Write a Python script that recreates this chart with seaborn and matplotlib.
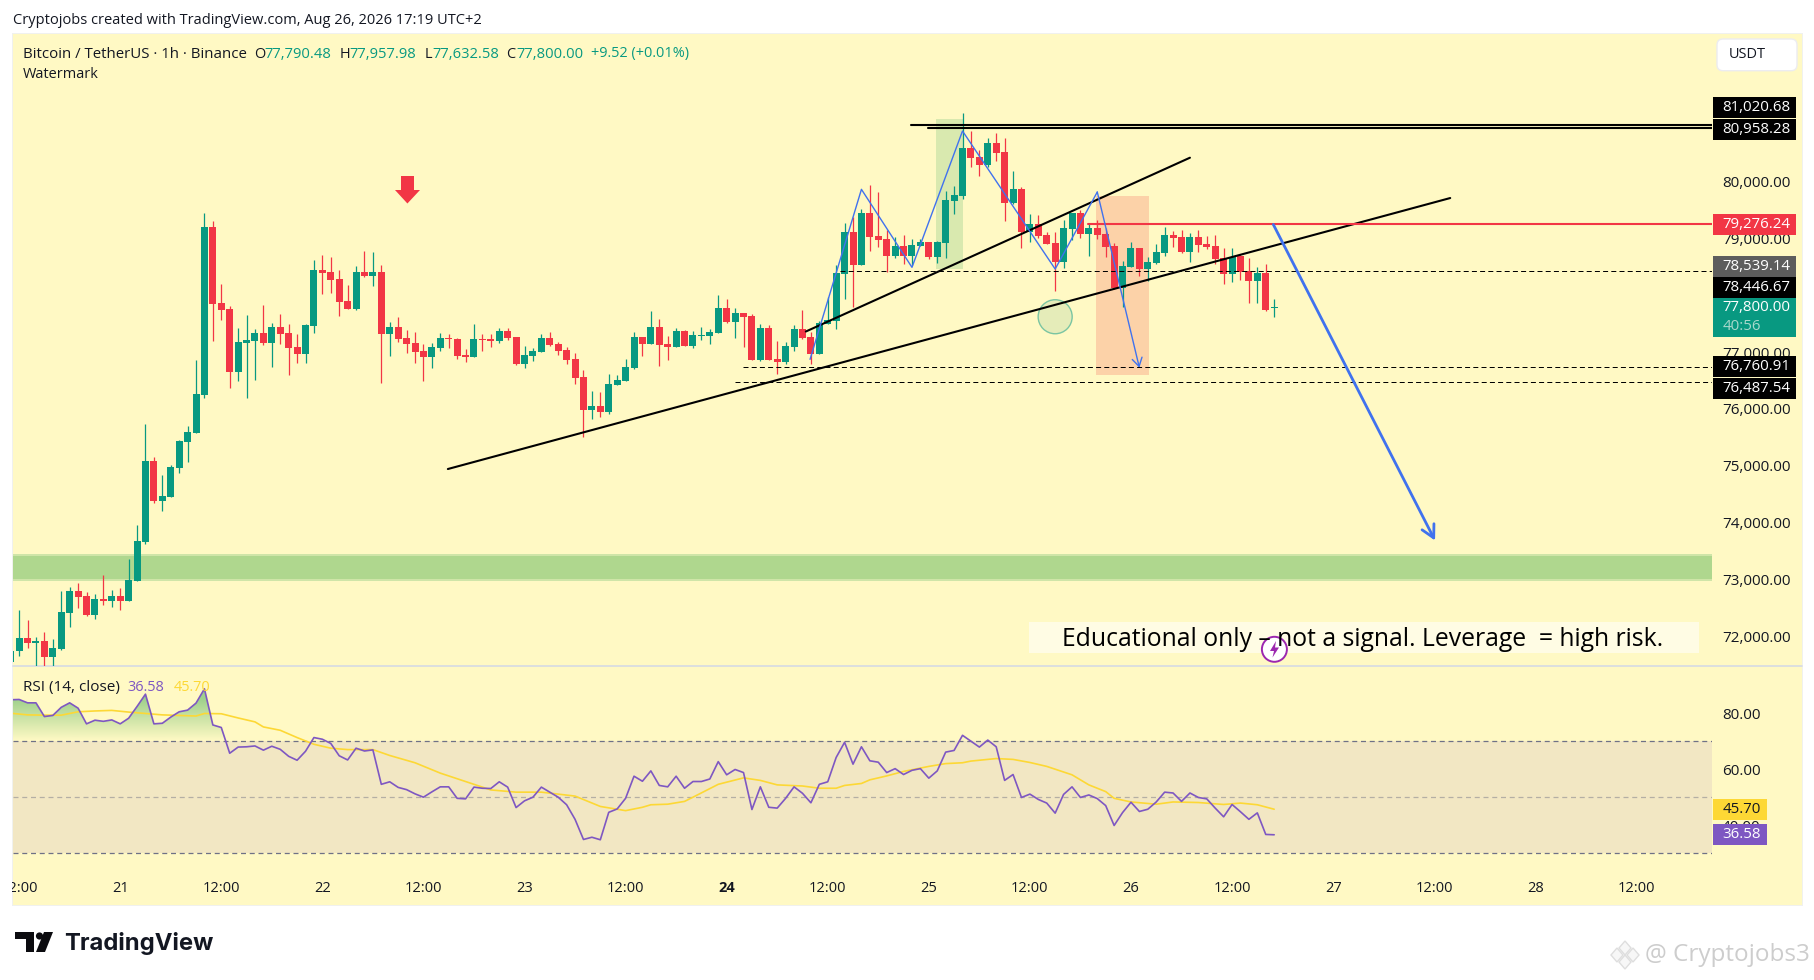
import numpy as np
import pandas as pd
import matplotlib
matplotlib.use("Agg")
import matplotlib.pyplot as plt
import seaborn as sns
from matplotlib.patches import Rectangle, Polygon, Circle, Ellipse, FancyBboxPatch
from matplotlib.path import Path
from matplotlib.transforms import ScaledTranslation

W, H = 1815, 980
FONT = "Open Sans"

# Hourly candles, hour 0 = Aug 21 00:00
first_hour = -13
opens = [
    71579, 71772, 72001, 71913, 71948, 71667, 71808, 72441, 72829, 72741,
    72406, 72688, 72653, 72741, 72653, 73005, 73692, 75118, 74413, 74484,
    74994, 75452, 75611, 76280, 79238, 77900, 77794, 76685, 77195, 77231,
    77371, 77195, 77477, 77371, 77125, 77002, 77495, 78481, 78445, 78322,
    77935, 77794, 78445, 78375, 78445, 77354, 77477, 77283, 77195, 77054,
    76949, 77107, 77283, 77266, 76984, 76949, 77266, 77266, 77231, 77407,
    77301, 76826, 76967, 77037, 77284, 77178, 77072, 76914, 76597, 76016,
    76086, 75981, 76456, 76527, 76755, 77301, 77178, 77477, 77178, 77125,
    77407, 77143, 77319, 77319, 77372, 77812, 77565, 77724, 77671, 76896,
    77460, 76914, 76861, 77125, 77442, 77301, 77002, 77529, 77582, 78410,
    79149, 78568, 79484, 79079, 79026, 78727, 78903, 78727, 78903, 78973,
    78709, 78955, 79695, 79783, 80628, 80470, 80329, 80716, 80558, 79660,
    79906, 79149, 79290, 79096, 78955, 78621, 79202, 79484, 79114, 79220,
    79114, 78903, 78163, 78533, 78867, 78498, 78603, 78779, 79096, 79061,
    78797, 79061, 78938, 78903, 78691, 78410, 78727, 78462, 78286, 78427,
]
highs = [
    71784, 72494, 72318, 72019, 72107, 71984, 72829, 72899, 72970, 72811,
    72776, 73111, 72846, 72882, 73392, 73991, 75769, 75188, 74871, 75047,
    75487, 75734, 76896, 79484, 79343, 78234, 77847, 77459, 77688, 77442,
    77864, 77547, 77706, 77530, 77354, 77530, 78657, 78745, 78710, 78481,
    78217, 78551, 78815, 78798, 78569, 77565, 77653, 77424, 77389, 77178,
    77195, 77371, 77354, 77283, 77090, 77530, 77354, 77354, 77460, 77460,
    77301, 77143, 77108, 77354, 77389, 77213, 77125, 77020, 76720, 76350,
    76333, 76650, 76632, 76914, 77389, 77301, 77759, 77618, 77319, 77460,
    77425, 77407, 77477, 77442, 78041, 77970, 77812, 77724, 77706, 77530,
    77513, 77231, 77213, 77513, 77777, 77389, 77583, 78005, 78580, 79308,
    79413, 79560, 79977, 79853, 79184, 79061, 79096, 79026, 79026, 78973,
    78991, 79871, 79959, 81244, 80927, 80593, 80804, 80892, 80804, 80223,
    79941, 79466, 79448, 79149, 79149, 79360, 79484, 79536, 79290, 79360,
    79220, 78955, 78638, 78973, 78867, 78709, 78938, 79237, 79167, 79184,
    79131, 79184, 79079, 79096, 78867, 78867, 78762, 78691, 78533, 78586,
]
lows = [
    71579, 71684, 71825, 71508, 71473, 71473, 71790, 72195, 72529, 72389,
    72336, 72582, 72547, 72494, 72653, 73005, 73656, 74378, 74237, 74484,
    74906, 75100, 75611, 76227, 77231, 77600, 76403, 76526, 76227, 76544,
    77160, 76773, 77178, 76632, 76843, 76843, 77371, 78058, 78076, 77671,
    77794, 77776, 78357, 78199, 76491, 76967, 77213, 77019, 76843, 76526,
    76755, 77054, 77107, 76914, 76861, 76949, 77055, 77125, 77196, 77248,
    76808, 76755, 76879, 77037, 77143, 76984, 76826, 76474, 75541, 75857,
    75893, 75946, 76456, 76527, 76738, 76967, 77178, 76791, 76896, 77125,
    77143, 77108, 77248, 77178, 77372, 77548, 77284, 77125, 76896, 76879,
    76896, 76650, 76826, 77055, 77266, 76826, 77002, 77529, 77441, 77969,
    77829, 78568, 78815, 78885, 78445, 78691, 78586, 78568, 78903, 78674,
    78603, 78691, 79466, 79730, 80294, 80135, 80294, 80399, 79343, 79642,
    78867, 78973, 79043, 78938, 78110, 78515, 79008, 79043, 78727, 79026,
    78709, 78145, 77829, 78533, 78374, 78286, 78586, 78727, 78885, 78779,
    78621, 78797, 78850, 78586, 78234, 78269, 78304, 77899, 77899, 77758,
]
closes = [
    71784, 72001, 71913, 71948, 71667, 71825, 72459, 72829, 72723, 72406,
    72688, 72653, 72741, 72653, 73022, 73709, 75118, 74413, 74501, 75012,
    75470, 75628, 76297, 79238, 77882, 77776, 76685, 77213, 77248, 77371,
    77195, 77477, 77354, 77107, 77002, 77512, 78481, 78428, 78305, 77917,
    77794, 78445, 78375, 78445, 77354, 77477, 77266, 77178, 77037, 76949,
    77125, 77283, 77266, 76967, 76949, 77266, 77248, 77231, 77407, 77284,
    76826, 76984, 77055, 77284, 77160, 77055, 76896, 76579, 76016, 76086,
    75981, 76474, 76544, 76773, 77301, 77178, 77477, 77160, 77125, 77407,
    77143, 77336, 77336, 77389, 77812, 77565, 77724, 77653, 76896, 77460,
    76896, 76861, 77143, 77442, 77284, 77002, 77548, 77600, 78427, 79149,
    78568, 79484, 79061, 79008, 78727, 78903, 78727, 78920, 78973, 78709,
    78973, 79713, 79801, 80628, 80452, 80329, 80716, 80540, 79660, 79906,
    79149, 79290, 79079, 78938, 78621, 79220, 79484, 79114, 79220, 79096,
    78885, 78163, 78550, 78867, 78498, 78621, 78797, 79096, 79043, 78797,
    79061, 78920, 78885, 78674, 78410, 78709, 78445, 78286, 78427, 77790,
]
# the open candle, from the header
last_ohlc = [77790.48, 77957.98, 77632.58, 77800.00]
read_offset = 21  # the readings above came out slightly high against the labels

rsi_values = [
    84.8, 84.9, 83.7, 83.7, 78.8, 79.2, 82.1, 83.7, 81.8, 76.2,
    77.5, 77.1, 77.6, 76.2, 78.2, 82.4, 86.8, 76.2, 76.4, 78.6,
    80.5, 81.1, 83.6, 88.7, 75.8, 74.9, 65.7, 67.9, 68.0, 68.3,
    66.8, 68.2, 67.1, 64.6, 63.2, 66.4, 71.3, 70.7, 69.2, 64.8,
    63.3, 67.5, 66.5, 66.9, 54.6, 55.5, 53.5, 52.7, 51.2, 50.0,
    51.9, 53.7, 53.7, 49.6, 49.4, 53.6, 53.2, 53.1, 55.5, 53.6,
    46.3, 48.7, 50.0, 53.6, 51.8, 50.0, 47.3, 42.1, 34.9, 35.7,
    34.8, 44.6, 45.8, 49.6, 57.5, 55.7, 59.4, 54.2, 53.7, 57.5,
    53.2, 55.6, 55.6, 56.5, 62.7, 58.0, 59.9, 58.8, 45.6, 53.7,
    46.4, 46.1, 49.6, 53.7, 51.4, 48.0, 54.6, 55.5, 64.2, 69.6,
    61.8, 68.0, 63.0, 62.5, 58.8, 60.2, 58.1, 59.6, 60.2, 56.8,
    59.4, 66.1, 66.7, 72.1, 70.0, 67.9, 70.4, 68.0, 56.0, 58.1,
    49.9, 51.1, 49.2, 47.9, 44.3, 51.0, 53.7, 49.9, 50.8, 49.5,
    47.0, 39.9, 44.5, 48.2, 44.9, 45.7, 48.3, 51.8, 51.5, 48.5,
    51.5, 49.9, 49.4, 46.1, 43.0, 47.4, 44.8, 42.1, 44.4, 36.7, 36.58,
]
rsi_ma_hours = [
    -13, -11, -9, -7, -5, -3, -1, 1, 3, 5, 7, 9, 10, 12, 14, 16, 17, 19, 21, 23, 25, 27, 30,
    32, 35, 38, 41, 44, 47, 50, 54, 57, 60, 62, 63, 65, 67, 68, 71, 74, 76, 78, 81, 83, 85,
    86, 88, 89, 91, 93, 96, 98, 100, 101, 104, 106, 108, 110, 113, 115, 117, 118, 120, 123,
    125, 128, 131, 133, 135, 137,
]
rsi_ma_values = [
    80.0, 79.4, 79.3, 79.3, 80.5, 80.8, 81.0, 80.4, 79.9, 79.4, 79.2, 79.0, 79.9, 79.8, 78.3,
    76.9, 75.1, 73.9, 71.3, 68.9, 67.5, 67.0, 67.0, 64.9, 62.3, 58.6, 55.6, 52.6, 51.8, 51.8,
    50.4, 46.7, 45.2, 46.4, 47.3, 47.5, 48.5, 50.0, 54.6, 56.9, 56.0, 54.4, 54.0, 53.2, 53.2,
    54.2, 54.9, 56.2, 57.6, 59.2, 61.0, 62.0, 62.3, 62.9, 63.8, 63.5, 62.4, 61.0, 58.0, 54.4,
    52.0, 49.6, 48.3, 47.5, 48.3, 48.1, 47.4, 47.9, 47.3, 45.70,
]

# 78,000 sits fully under the price tags
price_ticks = [72000, 73000, 74000, 75000, 76000, 77000, 79000, 80000]
rsi_ticks = [40, 60, 80]
time_ticks = [-12, 0, 12, 24, 36, 48, 60, 72, 84, 96, 108, 120, 132, 144, 156, 168, 180]
time_labels = ["12:00", "21", "12:00", "22", "12:00", "23", "12:00", "24", "12:00",
               "25", "12:00", "26", "12:00", "27", "12:00", "28", "12:00"]

level_top_a = 81020.68
level_top_b = 80958.28
level_red = 79276.24
level_mid = 78446.67
level_low_a = 76760.91
level_low_b = 76487.54

# hour / price pairs of the hand drawn lines
trend_long = ([38.9, 157.9], [74963, 79734])
trend_short = ([81.4, 127.0], [77384, 80444])
zigzag = ([81.9, 88.0, 94.0, 100.0, 111.0, 116.0], [76894, 79887, 78514, 80914, 78484, 79840])
zigzag_tip = (121.0, 76746)
big_arrow = ((136.9, 79268), (156.1, 73704))

sns.set_theme(style="white")
plt.rcParams["font.family"] = [FONT, "DejaVu Sans"]

BG = "#FFF9C4"
GREEN = "#089981"
RED = "#F23645"
BLUE = "#4072EE"
PURPLE = "#7E57C2"
YELLOW = "#FDD835"
INK = "#131722"

fig = plt.figure(figsize=(W / 100, H / 100), dpi=100, facecolor="white")


def add_px_axes(x0, y0, x1, y1, zorder):
    new_ax = fig.add_axes([x0 / W, 1 - y1 / H, (x1 - x0) / W, (y1 - y0) / H], zorder=zorder)
    new_ax.patch.set_alpha(0)
    for s in new_ax.spines.values():
        s.set_visible(False)
    return new_ax


# background and overlay in pixel coordinates
back = add_px_axes(0, 0, W, H, 0)
back.set_xlim(0, W)
back.set_ylim(H, 0)
back.axis("off")
back.add_patch(Rectangle((12, 33), 1791, 873, fc="#F0F1EE", ec="none"))
back.add_patch(Rectangle((13, 34), 1789, 871, fc=BG, ec="none"))
back.plot([13, 1802], [666, 666], color="#D6DAE4", lw=1.2)

top = add_px_axes(0, 0, W, H, 5)
top.set_xlim(0, W)
top.set_ylim(H, 0)
top.axis("off")

X_MIN, X_MAX = -12.727, 188.98

# price pane
ax = add_px_axes(13, 34, 1712, 666, 2)
ax.set_xlim(X_MIN, X_MAX)
ax.set_ylim(71495, 82622)

df = pd.DataFrame({
    "open": np.append(np.array(opens) - read_offset, last_ohlc[0]),
    "high": np.append(np.array(highs) - read_offset, last_ohlc[1]),
    "low": np.append(np.array(lows) - read_offset, last_ohlc[2]),
    "close": np.append(np.array(closes) - read_offset, last_ohlc[3]),
})
df["hour"] = np.arange(first_hour, first_hour + len(df))
df["up"] = df["close"] >= df["open"]
df["colour"] = np.where(df["up"], GREEN, RED)
df["bottom"] = df[["open", "close"]].min(axis=1)
df["size"] = (df["open"] - df["close"]).abs().clip(lower=18)

ax.axhspan(72987, 73463, xmin=0, xmax=1, fc="#CFE5A8", ec="none", zorder=1)
ax.axhspan(73020, 73430, xmin=0, xmax=1, fc="#AFD78E", ec="none", zorder=1.1)
ax.add_patch(Rectangle((96.9, 78484), 3.1, 81125 - 78484, fc="#D9E9AF", ec="none", zorder=1))
ax.add_patch(Rectangle((115.85, 76618), 6.25, 79769 - 76618, fc="#FCD2A8", ec="none", zorder=1))

ax.vlines(df["hour"], df["low"], df["high"], colors=df["colour"], lw=0.9, zorder=3)
ax.bar(df["hour"], df["size"], bottom=df["bottom"], width=0.83, color=df["colour"], lw=0, zorder=3.1)

ax.add_patch(Ellipse((111.0, 77644), 4.04, 599, fc="#E3EBB8", ec="#6DC09F", lw=1, alpha=0.9, zorder=3.5))

ax.plot(*trend_long, color="black", lw=1.5, zorder=4)
ax.plot(*trend_short, color="black", lw=1.5, zorder=4)
ax.plot([93.9, X_MAX], [level_top_a, level_top_a], color="black", lw=1.5, zorder=4)
ax.plot([95.9, X_MAX], [level_top_b, level_top_b], color="black", lw=1.5, zorder=4)
ax.plot([114.9, X_MAX], [level_red, level_red], color=RED, lw=1.5, zorder=4)
for start, level in [(85.5, level_mid), (73.9, level_low_a), (73.0, level_low_b)]:
    ax.plot([start, X_MAX], [level, level], color="black", lw=0.72, dashes=(5, 3.2), zorder=4)

ax.plot(*zigzag, color=BLUE, lw=1.0, zorder=4.2)
ax.annotate("", xy=zigzag_tip, xytext=(zigzag[0][-1], zigzag[1][-1]),
            arrowprops=dict(arrowstyle="->,head_length=0.5,head_width=0.3", color=BLUE, lw=1.0,
                            shrinkA=0, shrinkB=0), zorder=4.2)
ax.annotate("", xy=big_arrow[1], xytext=big_arrow[0],
            arrowprops=dict(arrowstyle="->,head_length=0.75,head_width=0.4", color=BLUE, lw=2.0,
                            shrinkA=0, shrinkB=0), zorder=4.2)

ax.yaxis.tick_right()
ax.set_yticks(price_ticks)
ax.set_yticklabels([f"{p:,.2f}" for p in price_ticks], fontsize=11, color=INK)
ax.tick_params(axis="y", length=0, pad=7.2)
ax.set_xticks([])
ax.grid(False)
# the axis text sits a pixel above the true level
nudge = ScaledTranslation(0, 1.2 / 100, fig.dpi_scale_trans)
for tick in ax.yaxis.get_major_ticks():
    tick.label2.set_transform(tick.label2.get_transform() + nudge)

# RSI pane
rsi_ax = add_px_axes(13, 667, 1712, 870, 2)
rsi_hours = np.arange(first_hour, first_hour + len(rsi_values))
rsi_arr = np.array(rsi_values)

rsi_ax.axhspan(30, 70, fc="#F2E7C3", ec="none", zorder=1)
for lvl, col in [(70, "#6F7186"), (50, "#B4AFA4"), (30, "#6F7186")]:
    rsi_ax.axhline(lvl, color=col, lw=0.9, dashes=(4, 3), zorder=2)

fill = rsi_ax.fill_between(rsi_hours, rsi_arr, 70, where=rsi_arr > 70, interpolate=True,
                           facecolor="none", edgecolor="none")
ramp = np.zeros((64, 1, 4))
ramp[:, 0, 0:3] = matplotlib.colors.to_rgb("#9FD18C")
ramp[:, 0, 3] = np.clip(np.linspace(0, 1.2, 64), 0, 1)
grad = rsi_ax.imshow(ramp, extent=[X_MIN, X_MAX, 70, 88], origin="lower", aspect="auto", zorder=1.5)
grad.set_clip_path(Path.make_compound_path(*fill.get_paths()), transform=rsi_ax.transData)

sns.lineplot(x=rsi_ma_hours, y=rsi_ma_values, ax=rsi_ax, color=YELLOW, lw=1.2, zorder=3)
sns.lineplot(x=rsi_hours, y=rsi_arr, ax=rsi_ax, color=PURPLE, lw=1.2, zorder=4)

rsi_ax.set_xlim(X_MIN, X_MAX)
rsi_ax.set_ylim(24.0, 96.5)
rsi_ax.yaxis.tick_right()
rsi_ax.set_yticks(rsi_ticks)
rsi_ax.set_yticklabels([f"{v:.2f}" for v in rsi_ticks], fontsize=11, color=INK)
rsi_ax.tick_params(axis="y", length=0, pad=7.2)
rsi_ax.set_xticks(time_ticks)
rsi_ax.set_xticklabels(time_labels, fontsize=10.5, color=INK)
rsi_ax.tick_params(axis="x", length=0, pad=8)
rsi_ax.get_xticklabels()[time_labels.index("24")].set_fontweight("bold")
rsi_ax.set_xlabel("")
rsi_ax.set_ylabel("")
rsi_ax.grid(False)


def label(x, y, s, size=14.5, color=INK, **kw):
    # +1: Open Sans sits a little high when centred
    top.text(x, y + 1, s, fontsize=size * 0.72, color=color, va="center", ha=kw.pop("ha", "left"), **kw)


def tag(y0, y1, s, fc, color="white", x1=1796):
    top.add_patch(Rectangle((1713, y0), x1 - 1713, y1 - y0, fc=fc, ec="none"))
    label(1722.5, (y0 + y1) / 2 - 1, s, size=15, color=color)


# left strip hides the clipped first tick label
top.add_patch(Rectangle((0, 860), 12, 45, fc="white", ec="none"))

# header
label(13, 20, "Cryptojobs created with TradingView.com, Aug 26, 2026 17:19 UTC+2", size=14.6)
label(23, 53, "Bitcoin / TetherUS · 1h · Binance", size=15)
for x_letter, letter, x_val, val in [(254, "O", 264, "77,790.48"), (340, "H", 349, "77,957.98"),
                                     (425, "L", 432.5, "77,632.58"), (506, "C", 516, "77,800.00")]:
    label(x_letter, 53, letter)
    label(x_val, 53, val, color=GREEN, size=14.8)
label(591, 53, "+9.52 (+0.01%)", color=GREEN)
label(23, 74, "Watermark")
label(23, 686, "RSI (14, close)", size=15.2)
label(127.5, 686, "36.58", color=PURPLE)
label(173.5, 686, "45.70", color=YELLOW)

top.add_patch(FancyBboxPatch((1717, 39), 80, 31.7, boxstyle="round,pad=0,rounding_size=6",
                             fc="white", ec="#ECECF0", lw=1))
label(1729, 54, "USDT")

# price tags
tag(96.7, 118, "81,020.68", "black")
tag(119, 140, "80,958.28", "black")
tag(214, 235, "79,276.24", RED)
tag(256, 277, "78,539.14", "#5D5D5D")
tag(277, 298, "78,446.67", "black")
top.add_patch(Rectangle((1713, 298), 83, 39, fc=GREEN, ec="none"))
label(1722.5, 306, "77,800.00", size=15, color="white")
label(1722.5, 325, "40:56", size=15, color="#A8D8CC")
tag(356, 377, "76,760.91", "black")
tag(378, 399, "76,487.54", "black")
tag(799, 820, "45.70", YELLOW, color=INK, x1=1767)
tag(824, 845, "36.58", PURPLE, x1=1767)

# red arrow
top.add_patch(Polygon([(401, 176), (414, 176), (414, 190), (420, 190), (407.4, 203.5), (395, 190), (401, 190)],
                      fc=RED, ec="none"))

# note box
top.add_patch(Rectangle((1029, 621.7), 670, 31, fc="#FFFCE4", ec="none"))
label(1363, 638, "Educational only – not a signal. Leverage  = high risk.", size=24.8, color="black", ha="center")
top.add_patch(Circle((1274.4, 649.3), 12.5, fc="white", ec="#9C27B0", lw=1.4))
top.add_patch(Polygon([(1276, 641), (1270, 651), (1274, 651), (1272.5, 657.5), (1279, 647.5), (1275, 647.5)],
                      fc="#9C27B0", ec="none"))

# TradingView logo
top.add_patch(Polygon([(15, 932), (34, 932), (34, 952), (26, 952), (26, 939), (15, 939)], fc="#0B0B0F", ec="none"))
top.add_patch(Circle((39.5, 936), 3.6, fc="#0B0B0F", ec="none"))
top.add_patch(Polygon([(44, 932), (53, 932), (45, 952), (36, 952)], fc="#0B0B0F", ec="none"))
top.text(64, 943, "TradingView", fontsize=23.8 * 0.72, fontweight="bold", family="Inter", color="#131722", va="center")

# watermark
for dx, dy in [(0, -7), (-8, 0), (8, 0), (0, 7)]:
    top.add_patch(Polygon([(1625 + dx, 948 + dy), (1631 + dx, 955 + dy), (1625 + dx, 962 + dy), (1619 + dx, 955 + dy)],
                          fc="#F7F7F7", ec="#DEDEDE", lw=1))
label(1645, 954, "@ Cryptojobs3", size=24.2, color="#CDCDCD")

fig.savefig("out.png", dpi=100, facecolor="white")
